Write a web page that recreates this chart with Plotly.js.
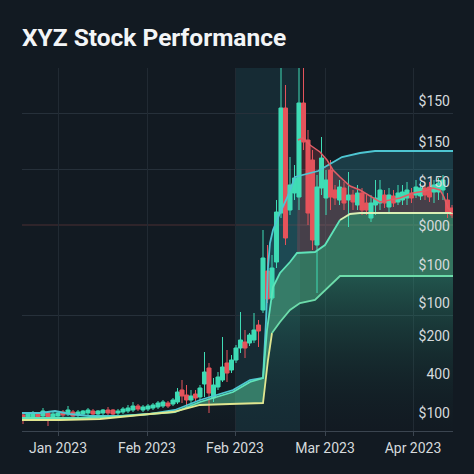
<!DOCTYPE html>
<html><head><meta charset="utf-8">
<script src="https://cdn.plot.ly/plotly-3.0.1.min.js"></script>
<style>html,body{margin:0;padding:0;background:#121a22;}#chart{width:474px;height:474px;}</style>
</head><body><div id="chart"></div>
<script>
// ---- candles ----
const candleX = [23,28,33,38,43,48,53,58,63,68,73,78,83,88,93,98,103,108,113,118,123,128,133,138,143,148,153,158,163,168,173,
  177.5,182,186.5,191,195.5,200,204.5,209,213.5,218,222.5,227,231.5,236,240.5,245,249.5,254,258.5,
  263,267.5,272,276.5,281,285.5,290,294.5,299,303.5,308,312.5,317,321.5,326,330.5,335,339.5,344,348.5,353,357.5,362,366.5,371,375.5,380,384.5,389,393.5,398,402.5,407,411.5,416,420.5,425,429.5,434,438.5,443,447.5,452];
const candleOpen = [16,13,14,17,15,18,14,15,19,17,19,16,17,18,20,17,18,21,21,18,19,20,21,25,21,22,23,24,25,28,27,
  29,41,36,31,37,34,47,63,33,44,51,68,61,71,83,89,88,91,106,
  121,160,133,169,218,323,221,238,234,328,291,271,186,243,233,261,241,231,243,231,236,226,238,228,213,226,228,236,224,235,229,231,233,238,236,235,243,244,239,239,241,231,223];
const candleHigh = [18,19,20,19,23,20,19,20,21,25,21,21,21,23,22,21,22,24,22,22,24,26,29,27,26,27,28,30,31,30,33,
  43,51,46,41,41,46,79,68,53,59,94,81,76,86,119,101,98,118,111,
  201,186,176,231,363,346,274,266,363,363,301,281,256,294,261,271,246,251,249,259,241,246,243,236,236,251,251,241,243,241,246,246,249,243,251,249,248,249,251,253,256,238,226];
const candleLow = [7,11,12,10,13,5,12,13,14,15,11,14,15,15,14,15,16,15,15,16,17,18,19,20,19,20,21,22,23,23,25,
  27,28,24,26,29,31,34,18,29,41,49,49,58,68,78,73,85,88,84,
  118,128,131,163,213,186,216,231,221,281,206,181,138,236,216,221,226,226,221,204,221,221,216,216,209,216,221,223,218,224,226,226,226,228,233,231,231,229,228,231,231,213,213];
const candleClose = [11,17,18,13,20,13,17,18,16,21,15,19,20,21,17,20,21,18,17,20,22,23,25,22,24,25,26,28,29,25,31,
  39,35,31,35,33,43,59,38,46,54,64,58,71,83,91,83,96,101,100,
  173,132,163,219,323,193,246,253,328,289,218,191,244,273,251,234,233,244,228,236,229,238,221,221,228,233,241,228,236,228,238,239,241,233,244,243,236,234,246,248,251,218,216];

// ---- band lines ----
const upperX = [22,40,55,70,90,120,150,175,200,233,250,263,266,268,270,273,280,287,295,318,330,342,360,375,453];
const upperY = [18,18,20,17,15,15,17,21,31,41,51,53,110,164,188,201,218,233,254,260,267,274,278,280,280];
const midX = [22,50,80,110,140,175,200,233,250,263,267,273,280,290,297,315,325,340,350,360,453];
const midY = [13,13,13,14,16,19,29,39,49,53,101,144,158,169,178,179,186,211,217,218,218];
const lowX = [22,60,100,127,150,173,200,230,263,268,272,280,290,300,315,328,340,453];
const lowY = [11,11,12,15,17,19,26,27,28,71,98,109,121,128,131,143,155,155];
const avgX = [298,303,310,320,327,333,340,350,360,370,380,390,400,413,425,433,440,444,448,453];
const avgY = [291,293,286,279,271,261,254,245,241,235,229,231,233,238,240,243,241,234,223,218];

// ---- axes ----
const xTickVals = [58,147,235,325,413];
const xTickText = ['Jan 2023','Feb 2023','Feb 2023','Mar 2023','Apr 2023'];
const yTickVals = [330,289,249,205,166,128,95,57,18];
const yTickText = ['$150','$150','$150','$000','$100','$100','$200','400','$100'];
const gridVals = [318,262,116];
const refLevel = 206;
const highlightRange = [235,300];

const midSplit = midX.indexOf(340);
const midBase = midX.indexOf(297);
const lowSplit = lowX.indexOf(272);

const traces = [
  {x:lowX, y:lowY, type:'scatter', mode:'lines', line:{width:0}, fill:'tozeroy',
   fillgradient:{type:'vertical', start:0, stop:155, colorscale:[[0,'rgba(20,60,60,0)'],[1,'rgba(55,165,135,0.42)']]}, hoverinfo:'skip'},
  {x:midX, y:midY, type:'scatter', mode:'lines', line:{width:0}, fill:'tonexty', fillcolor:'rgba(85,205,155,0.5)', hoverinfo:'skip'},
  {x:upperX, y:upperY, type:'scatter', mode:'lines', line:{width:0}, fill:'tonexty', fillcolor:'rgba(50,150,165,0.28)', hoverinfo:'skip'},
  {x:midX.slice(midBase), y:midY.slice(midBase), type:'scatter', mode:'lines', line:{width:0}, hoverinfo:'skip'},
  {x:avgX, y:avgY, type:'scatter', mode:'lines', line:{width:0}, fill:'tonexty', fillcolor:'rgba(200,70,85,0.25)', hoverinfo:'skip'},
  {x:candleX, open:candleOpen, high:candleHigh, low:candleLow, close:candleClose, type:'candlestick',
   xaxis:'x2', yaxis:'y2', whiskerwidth:0,
   increasing:{line:{color:'#3fdcb5', width:1}, fillcolor:'#3fdcb5'},
   decreasing:{line:{color:'#e5535b', width:1}, fillcolor:'#e5535b'}, hoverinfo:'skip'},
  {x:upperX, y:upperY, type:'scatter', mode:'lines', xaxis:'x3', yaxis:'y3', line:{color:'#4ec6d2', width:1.8}, hoverinfo:'skip'},
  {x:midX.slice(0,midSplit+1), y:midY.slice(0,midSplit+1), type:'scatter', mode:'lines', xaxis:'x3', yaxis:'y3', line:{color:'#5fe3b9', width:1.8}, hoverinfo:'skip'},
  {x:midX.slice(midSplit), y:midY.slice(midSplit), type:'scatter', mode:'lines', xaxis:'x3', yaxis:'y3', line:{color:'#d8efb4', width:1.8}, hoverinfo:'skip'},
  {x:lowX.slice(0,lowSplit+1), y:lowY.slice(0,lowSplit+1), type:'scatter', mode:'lines', xaxis:'x3', yaxis:'y3', line:{color:'#e0e690', width:1.8}, hoverinfo:'skip'},
  {x:lowX.slice(lowSplit), y:lowY.slice(lowSplit), type:'scatter', mode:'lines', xaxis:'x3', yaxis:'y3', line:{color:'#6ddcaa', width:1.8}, hoverinfo:'skip'},
  {x:avgX, y:avgY, type:'scatter', mode:'lines', xaxis:'x3', yaxis:'y3', line:{color:'#e05d66', width:1.5}, hoverinfo:'skip'}
];

const tickFont = {family:'Roboto, sans-serif', size:14, color:'#d6dadd'};
const layout = {
  width:474, height:474,
  paper_bgcolor:'#121a22', plot_bgcolor:'#121a22',
  margin:{l:22, r:21, t:68, b:43},
  showlegend:false,
  boxgap:0.1, boxgroupgap:0,
  title:{text:'XYZ Stock Performance', xref:'container', yref:'container', x:22/474, xanchor:'left', y:1-37/474, yanchor:'middle',
         font:{family:'Roboto, sans-serif', size:24.5, weight:700, color:'#f3f5f7'}},
  xaxis:{range:[22,453], tickmode:'array', tickvals:xTickVals, ticktext:xTickText, showgrid:true, gridcolor:'#212a33', zeroline:false,
         showline:true, linecolor:'#3b4550', ticks:'outside', ticklen:4, tickcolor:'#3b4550', tickfont:tickFont, rangeslider:{visible:false}},
  yaxis:{range:[0,363], side:'right', tickmode:'array', tickvals:yTickVals, ticktext:yTickText, ticklabelposition:'inside', ticks:'',
         showgrid:false, zeroline:false, tickfont:tickFont,
         minor:{tickmode:'array', tickvals:gridVals, showgrid:true, gridcolor:'#26303a', ticks:''}},
  xaxis2:{overlaying:'x', range:[22,453], visible:false, rangeslider:{visible:false}},
  yaxis2:{overlaying:'y', range:[0,363], visible:false},
  xaxis3:{overlaying:'x', range:[22,453], visible:false},
  yaxis3:{overlaying:'y', range:[0,363], visible:false},
  shapes:[
    {type:'rect', xref:'x', yref:'paper', x0:highlightRange[0], x1:highlightRange[1], y0:0, y1:1, fillcolor:'rgba(50,150,160,0.14)', line:{width:0}, layer:'below'},
    {type:'line', xref:'paper', yref:'y', x0:0, x1:1, y0:refLevel, y1:refLevel, line:{color:'#4a2e33', width:1}, layer:'below'}
  ]
};
Plotly.newPlot('chart', traces, layout, {staticPlot:true, displayModeBar:false});
</script>
</body></html>
